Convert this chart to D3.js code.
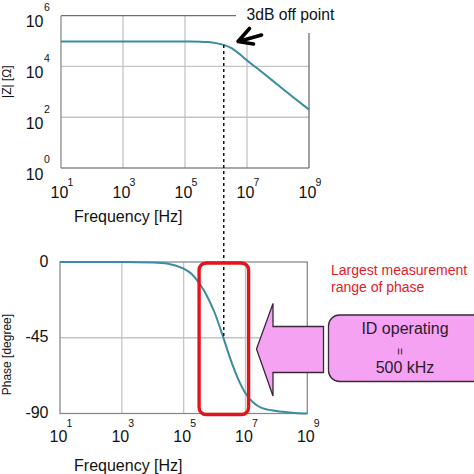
<!DOCTYPE html>
<html><head><meta charset="utf-8">
<script src="https://cdn.jsdelivr.net/npm/d3@7"></script>
<style>
html,body{margin:0;padding:0;background:#fff;overflow:hidden}
svg{display:block;font-family:"Liberation Sans",Arial,sans-serif}
</style></head>
<body>
<svg id="c" width="474" height="474"></svg>
<script>
// ---- data ----
const xTickExps = [1, 3, 5, 7, 9];           // frequency ticks: 10^n Hz
const magTickExps = [0, 2, 4, 6];            // magnitude ticks: 10^n
const phaseTicks = [0, -45, -90];            // phase ticks (degrees)
const magFreqExp = [1, 2, 3, 4, 5, 5.5, 5.75, 6, 6.25, 6.5, 6.75, 7, 7.25, 7.5, 8, 8.5, 9];
const magLogValue = [4.98, 4.98, 4.98, 4.98, 4.98, 4.975, 4.96, 4.92, 4.85, 4.72, 4.5, 4.24, 4.0, 3.76, 3.27, 2.78, 2.3];
const phaseFreqExp = [1, 2, 3, 4, 4.5, 5, 5.25, 5.5, 5.75, 6, 6.25, 6.5, 6.75, 7, 7.25, 7.5, 8, 8.5, 9];
const phaseDeg = [0, 0, 0, -0.3, -1, -4, -7, -12.5, -20, -30, -43, -57, -69, -78, -83.5, -86.5, -88.5, -89.5, -90];
const cutoffExp = 6.25;       // 3 dB point
const rangeExp = [5.5, 7.1];  // largest measurement range of phase

const svg = d3.select("#c");
const teal = "#3c8c9f", grid = "#c4c4c4", frame = "#8a8a8a";

// ---- scales ----
const xTop = d3.scaleLinear().domain([1, 9]).range([61, 309]);
const yTop = d3.scaleLinear().domain([0, 6]).range([168, 15.7]);
const xBot = d3.scaleLinear().domain([1, 9]).range([60, 307.3]);
const yBot = d3.scaleLinear().domain([-90, 0]).range([413.5, 262]);

// ---- top panel grid & frame ----
const gT = svg.append("g");
gT.selectAll("line.v").data([3, 5]).join("line")
  .attr("x1", d => xTop(d)).attr("x2", d => xTop(d))
  .attr("y1", yTop(6)).attr("y2", yTop(0))
  .attr("stroke", grid).attr("stroke-width", 1.3);
gT.append("line").attr("x1", xTop(7)).attr("x2", xTop(7))
  .attr("y1", 43).attr("y2", yTop(0)).attr("stroke", grid).attr("stroke-width", 1.3);
gT.selectAll("line.h").data([2, 4]).join("line")
  .attr("x1", xTop(1)).attr("x2", xTop(9))
  .attr("y1", d => yTop(d)).attr("y2", d => yTop(d))
  .attr("stroke", grid).attr("stroke-width", 1.3);
gT.append("line").attr("x1", xTop(1)).attr("x2", xTop(1)).attr("y1", yTop(6)).attr("y2", yTop(0)).attr("stroke", frame).attr("stroke-width", 1.3);
gT.append("line").attr("x1", xTop(1)).attr("x2", xTop(9)).attr("y1", yTop(0)).attr("y2", yTop(0)).attr("stroke", frame).attr("stroke-width", 1.3);
gT.append("line").attr("x1", xTop(9)).attr("x2", xTop(9)).attr("y1", 33).attr("y2", yTop(0)).attr("stroke", "#6f6f6f").attr("stroke-width", 1.3);
gT.append("line").attr("x1", xTop(1)).attr("x2", 236).attr("y1", yTop(6)).attr("y2", yTop(6)).attr("stroke", "#6f6f6f").attr("stroke-width", 1.3);

// ---- bottom panel grid & frame ----
const gB = svg.append("g");
gB.selectAll("line.v").data([3, 5, 7]).join("line")
  .attr("x1", d => xBot(d)).attr("x2", d => xBot(d))
  .attr("y1", yBot(0)).attr("y2", yBot(-90))
  .attr("stroke", grid).attr("stroke-width", 1.3);
gB.append("line").attr("x1", xBot(1)).attr("x2", xBot(9))
  .attr("y1", yBot(-45)).attr("y2", yBot(-45)).attr("stroke", grid).attr("stroke-width", 1.3);
gB.append("rect").attr("x", xBot(1)).attr("y", yBot(0))
  .attr("width", xBot(9) - xBot(1)).attr("height", yBot(-90) - yBot(0))
  .attr("fill", "none").attr("stroke", frame).attr("stroke-width", 1.3);

// ---- curves ----
const magData = magFreqExp.map((f, i) => [f, magLogValue[i]]);
const phData = phaseFreqExp.map((f, i) => [f, phaseDeg[i]]);
svg.append("path").datum(magData)
  .attr("d", d3.line().x(d => xTop(d[0])).y(d => yTop(d[1])).curve(d3.curveMonotoneX))
  .attr("fill", "none").attr("stroke", teal).attr("stroke-width", 2);
svg.append("path").datum(phData)
  .attr("d", d3.line().x(d => xBot(d[0])).y(d => yBot(d[1])).curve(d3.curveMonotoneX))
  .attr("fill", "none").attr("stroke", teal).attr("stroke-width", 2);

// ---- tick labels ----
const tl = svg.append("g").attr("fill", "#111");
[[xTop, 198, 185.5], [xBot, 441.5, 427]].forEach(([xs, yb, ys]) => {
  tl.selectAll(null).data(xTickExps).join("text")
    .attr("x", d => xs(d) - 1.5).attr("y", yb).attr("text-anchor", "middle")
    .attr("font-size", 16).text("10");
  tl.selectAll(null).data(xTickExps).join("text")
    .attr("x", d => xs(d) + 6.5).attr("y", ys).attr("text-anchor", "start")
    .attr("font-size", 10.5).text(d => d);
});
tl.selectAll(null).data(magTickExps).join("text")
  .attr("x", 43.5).attr("y", d => yTop(d) + 11.6).attr("text-anchor", "end")
  .attr("font-size", 16).text("10");
tl.selectAll(null).data(magTickExps).join("text")
  .attr("x", 44).attr("y", d => yTop(d) - 4.7).attr("text-anchor", "start")
  .attr("font-size", 10.5).text(d => d);
tl.selectAll(null).data(phaseTicks).join("text")
  .attr("x", 48.5).attr("y", d => yBot(d) + 4.5).attr("text-anchor", "end")
  .attr("font-size", 16).text(d => d);
tl.append("text").attr("x", 128.3).attr("y", 221.7).attr("text-anchor", "middle").attr("font-size", 16).text("Frequency [Hz]");
tl.append("text").attr("x", 128.3).attr("y", 471).attr("text-anchor", "middle").attr("font-size", 16).text("Frequency [Hz]");

// rotated axis titles at the left edge
tl.append("text").attr("transform", `translate(11,${yTop(3.4)}) rotate(-90)`)
  .attr("text-anchor", "middle").attr("font-size", 12).text("|Z| [Ω]");
tl.append("text").attr("transform", `translate(11,${yBot(-55)}) rotate(-90)`)
  .attr("text-anchor", "middle").attr("font-size", 12).text("Phase [degree]");

// ---- 3dB annotation ----
const cutVal = magLogValue[magFreqExp.indexOf(cutoffExp)];
svg.append("line")
  .attr("x1", xTop(cutoffExp)).attr("x2", xTop(cutoffExp))
  .attr("y1", yTop(cutVal)).attr("y2", yBot(-45))
  .attr("stroke", "#111").attr("stroke-width", 1.5).attr("stroke-dasharray", "3,3");
svg.append("text").attr("x", 246.5).attr("y", 20).attr("font-size", 15.7).attr("fill", "#111").text("3dB off point");
svg.append("path")
  .attr("d", "M261.5,35 L238.5,41.5 M249.5,28.5 L238,41.5 L253.5,44")
  .attr("fill", "none").attr("stroke", "#000").attr("stroke-width", 3.6)
  .attr("stroke-linecap", "round").attr("stroke-linejoin", "round");

// ---- red range box ----
svg.append("rect")
  .attr("x", xBot(rangeExp[0])).attr("y", yBot(0) + 1)
  .attr("width", xBot(rangeExp[1]) - xBot(rangeExp[0]))
  .attr("height", yBot(-90) - yBot(0))
  .attr("rx", 7).attr("ry", 7)
  .attr("fill", "none").attr("stroke", "#e3141c").attr("stroke-width", 3.4);

svg.append("text").attr("x", 331).attr("y", 275).attr("font-size", 14).attr("fill", "#e3202a").text("Largest measurement");
svg.append("text").attr("x", 331).attr("y", 292).attr("font-size", 14).attr("fill", "#e3202a").text("range of phase");

// ---- pink arrow and box ----
const pink = "#f5a2f3", pinkStroke = "#3a2838";
svg.append("path")
  .attr("d", "M256.5,349 L273,303.5 L273,326.5 L323.5,326.5 L323.5,372.5 L273,372.5 L273,396 Z")
  .attr("fill", pink).attr("stroke", pinkStroke).attr("stroke-width", 1.3).attr("stroke-linejoin", "miter");
svg.append("rect").attr("x", 328.5).attr("y", 315).attr("width", 170).attr("height", 66.5)
  .attr("rx", 11).attr("ry", 11)
  .attr("fill", pink).attr("stroke", pinkStroke).attr("stroke-width", 1.3);
svg.append("text").attr("x", 405).attr("y", 334.3).attr("text-anchor", "middle").attr("font-size", 16).attr("fill", "#2a1a2a").text("ID operating");
svg.append("text").attr("transform", "translate(400,351.5) rotate(90)").attr("text-anchor", "middle")
  .attr("dy", "0.35em").attr("font-size", 12).attr("fill", "#2a1a2a").text("=");
svg.append("text").attr("x", 405).attr("y", 372.5).attr("text-anchor", "middle").attr("font-size", 16).attr("fill", "#2a1a2a").text("500 kHz");
</script>
</body></html>
